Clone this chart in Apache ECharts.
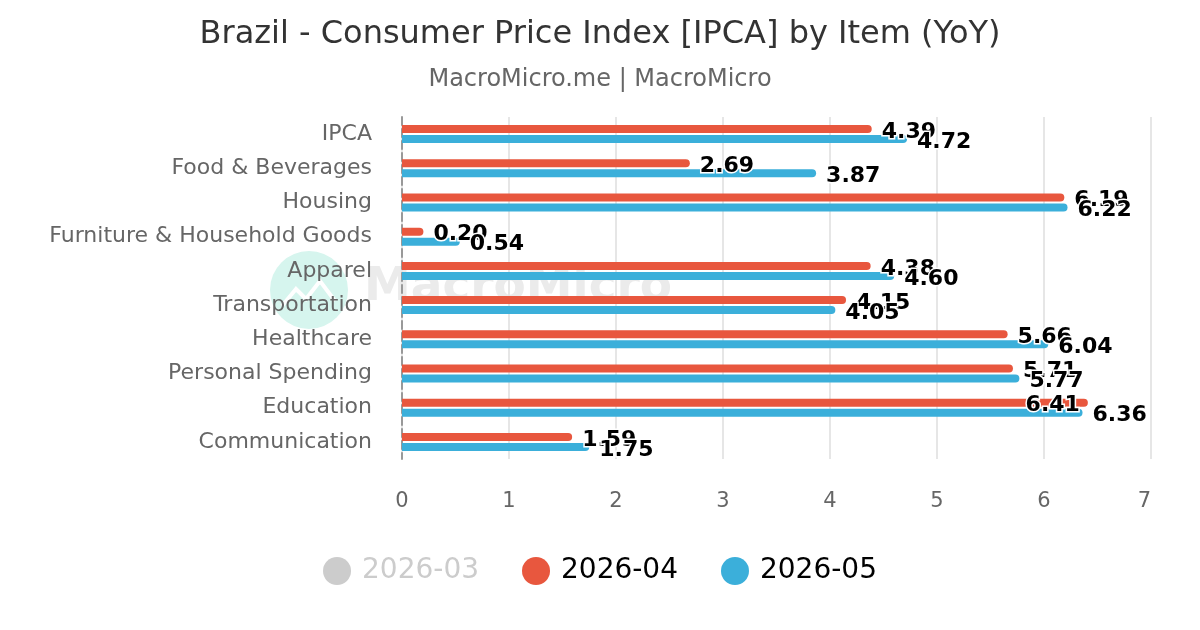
<!DOCTYPE html>
<html>
<head>
<meta charset="utf-8">
<script src="https://cdn.jsdelivr.net/npm/echarts@6/dist/echarts.min.js"></script>
<style>
  html, body { margin: 0; padding: 0; background: #fff; }
  #main { width: 1200px; height: 630px; }
</style>
</head>
<body>
<div id="main"></div>
<script>
var categories = ['IPCA', 'Food & Beverages', 'Housing', 'Furniture & Household Goods', 'Apparel',
  'Transportation', 'Healthcare', 'Personal Spending', 'Education', 'Communication'];
var seriesNames = ['2026-03', '2026-04', '2026-05'];
var mar26 = [];  // hidden in the legend, values not shown
var apr26 = [4.39, 2.69, 6.19, 0.20, 4.38, 4.15, 5.66, 5.71, 6.41, 1.59];
var may26 = [4.72, 3.87, 6.22, 0.54, 4.60, 4.05, 6.04, 5.77, 6.36, 1.75];
var xTicks = [0, 1, 2, 3, 4, 5, 6, 7];

var FONT = 'DejaVu Sans';

var chartDom = document.getElementById('main');
var myChart = echarts.init(chartDom, null, { renderer: 'canvas' });

// insideIdx: category index whose label got pushed inside the bar (overlap)
function barSeries(name, data, color, insideIdx) {
  var items = data.map(function (v, i) {
    if (i === insideIdx) {
      return { value: v, label: { position: 'insideRight', distance: 8 } };
    }
    return v;
  });
  return {
    name: name,
    type: 'bar',
    data: items,
    barWidth: 8,
    barGap: '25%',
    itemStyle: { color: color, borderRadius: [0, 4, 4, 0] },
    label: {
      show: true,
      position: 'right',
      distance: 10,
      offset: [0, 3],
      fontFamily: FONT,
      fontSize: 22,
      fontWeight: 'bold',
      color: '#000',
      textBorderColor: '#fff',
      textBorderWidth: 3,
      formatter: function (p) { return p.value.toFixed(2); }
    },
    z: 3
  };
}

var option = {
  animation: false,
  backgroundColor: '#fff',
  title: {
    text: 'Brazil - Consumer Price Index [IPCA] by Item (YoY)',
    subtext: 'MacroMicro.me | MacroMicro',
    left: 'center',
    top: 14,
    itemGap: 17,
    textStyle: { fontFamily: FONT, fontSize: 32, fontWeight: 'normal', color: '#333' },
    subtextStyle: { fontFamily: FONT, fontSize: 24, color: '#666' }
  },
  graphic: [
    {
      type: 'circle',
      shape: { cx: 309, cy: 290, r: 39 },
      style: { fill: '#d6f5ee' },
      z: 0
    },
    {
      type: 'polyline',
      shape: { points: [[282, 306], [296, 289], [306, 299], [320, 281], [335, 301]] },
      style: { stroke: '#fff', lineWidth: 4, fill: null },
      z: 0
    },
    {
      type: 'text',
      left: 364,
      top: 264,
      style: { text: 'MacroMicro', fontFamily: FONT, fontSize: 47, fontWeight: 'bold', fill: '#ebebeb' },
      z: 0
    }
  ],
  legend: {
    data: seriesNames,
    bottom: 40,
    left: 'center',
    icon: 'circle',
    itemWidth: 28,
    itemHeight: 28,
    itemGap: 43,
    selected: { '2026-03': false },
    inactiveColor: '#ccc',
    textStyle: { fontFamily: FONT, fontSize: 28, color: '#000', padding: [0, 0, 0, 6] }
  },
  grid: {
    left: 402,
    right: 49,
    top: 117,
    bottom: 171,
    containLabel: false
  },
  xAxis: {
    type: 'value',
    min: xTicks[0],
    max: xTicks[xTicks.length - 1],
    interval: 1,
    axisLine: { show: false },
    axisTick: { show: false },
    axisLabel: { fontFamily: FONT, fontSize: 21, color: '#666', margin: 32, alignMaxLabel: 'right' },
    splitLine: { lineStyle: { color: '#e6e6e6', width: 2 } }
  },
  yAxis: {
    type: 'category',
    data: categories,
    inverse: true,
    axisLine: { show: true, lineStyle: { color: '#999', width: 2, type: 'dashed' } },
    axisTick: { show: false },
    axisLabel: { fontFamily: FONT, fontSize: 22, color: '#666', margin: 30 }
  },
  series: [
    barSeries('2026-03', mar26, '#8a8a8a', -1),
    barSeries('2026-04', apr26, '#e8573e', 8),
    barSeries('2026-05', may26, '#3bafda', -1)
  ]
};

myChart.setOption(option);
window.addEventListener('resize', function () { myChart.resize(); });
</script>
</body>
</html>
